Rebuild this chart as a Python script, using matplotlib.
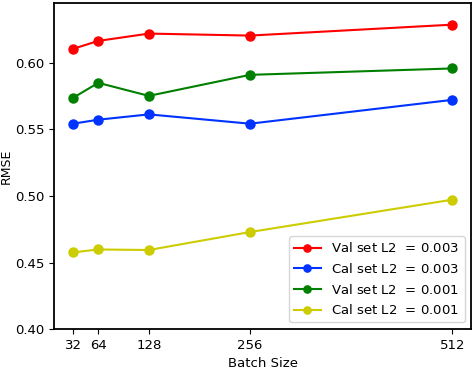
import matplotlib
matplotlib.use("Agg")
import matplotlib.pyplot as plt

batch_sizes = [32, 64, 128, 256, 512]
val_003 = [0.6105, 0.6165, 0.622, 0.6205, 0.6287]
cal_003 = [0.5543, 0.5573, 0.5613, 0.5543, 0.5722]
val_001 = [0.5737, 0.5850, 0.5752, 0.5910, 0.5958]
cal_001 = [0.4576, 0.4598, 0.4594, 0.4729, 0.4972]

series = [
    ("Val set $\\mathregular{L2}$  = 0.003", val_003, "#ff0000"),
    ("Cal set $\\mathregular{L2}$  = 0.003", cal_003, "#0033ff"),
    ("Val set $\\mathregular{L2}$  = 0.001", val_001, "#008000"),
    ("Cal set $\\mathregular{L2}$  = 0.001", cal_001, "#cccc00"),
]

plt.rcParams["font.size"] = 9.5
fig = plt.figure(figsize=(4.74, 3.71), dpi=100)
ax = fig.add_axes([0.114, 0.113, 0.88, 0.879])
for label, vals, color in series:
    ax.plot(batch_sizes, vals, "-o", color=color, lw=1.5, ms=6.5, label=label)

ax.set_xticks(batch_sizes)
ax.set_xticklabels([str(b) for b in batch_sizes])
ax.set_ylim(0.40, 0.645)
ax.set_yticks([0.40, 0.45, 0.50, 0.55, 0.60])
ax.set_xlabel("Batch Size")
ax.set_ylabel("RMSE", fontsize=9, labelpad=1.5)
for s in ax.spines.values():
    s.set_linewidth(1.3)
ax.legend(loc="lower right", fontsize=9.5, markerscale=0.8, handlelength=2.0)
fig.savefig("out.png", dpi=100)
